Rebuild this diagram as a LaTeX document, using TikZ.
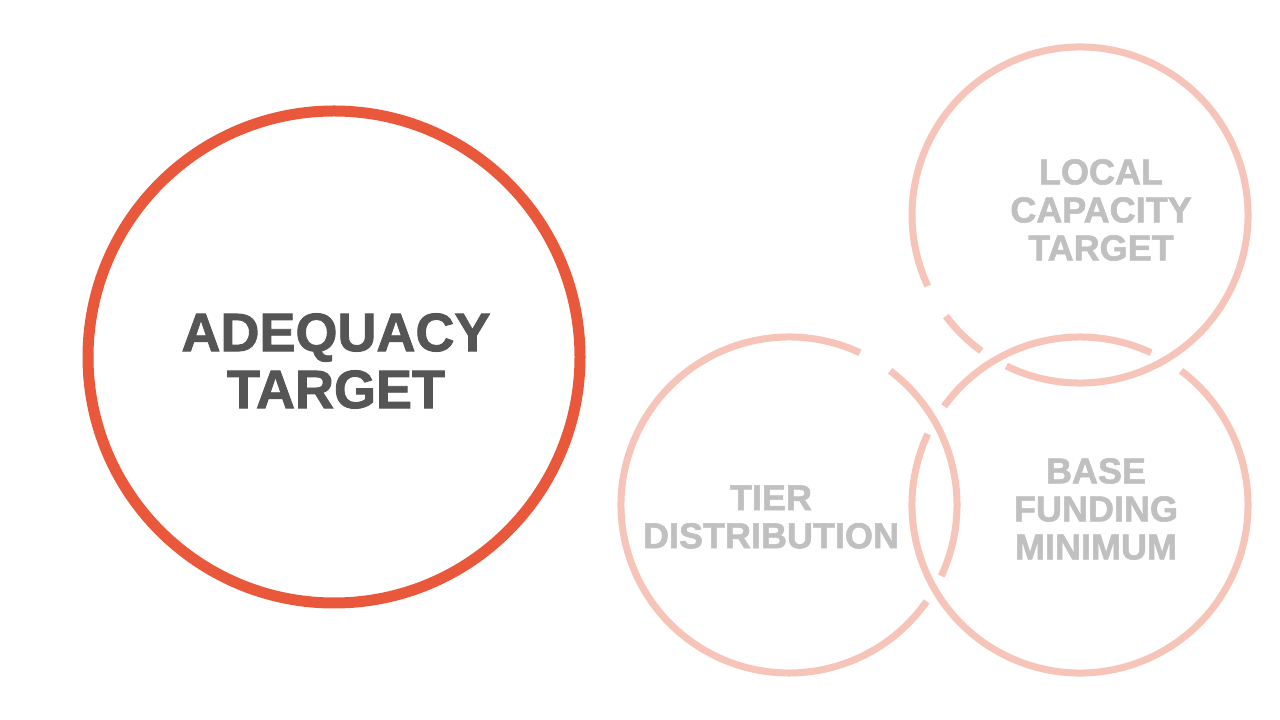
\documentclass[tikz,border=0pt]{standalone}
\usepackage{fontspec}
\setmainfont{Liberation Sans}[BoldFeatures={FakeBold=1.6}]
\usetikzlibrary{positioning}
\definecolor{ringred}{RGB}{233,88,58}
\definecolor{ringpink}{RGB}{246,196,184}
\definecolor{textdark}{RGB}{85,85,85}
\definecolor{textlight}{RGB}{192,192,192}

\begin{document}
\begin{tikzpicture}[x=1pt,y=1pt,semithick]
  \tikzstyle{big}=[circle,draw=ringred,line width=11pt,minimum size=492pt,inner sep=0pt]
  \tikzstyle{bigtext}=[text=textdark,align=center,inner sep=0pt,
                       font=\bfseries\fontsize{54}{57}\selectfont]
  \tikzstyle{ring}=[draw=ringpink,line width=7pt]
  \tikzstyle{small}=[text=textlight,align=center,inner sep=0pt,
                     font=\bfseries\fontsize{36}{38}\selectfont]

  \useasboundingbox (0,0) rectangle (1280,720);
  \fill[white] (0,0) rectangle (1280,720);

  \node[big] (adequacy) at (334,363) {};
  \node[bigtext] (adequacytext) at ([shift={(2,-4)}]adequacy) {ADEQUACY\\TARGET};

  \coordinate (tier) at (789,215);
  \coordinate[right=291pt of tier] (base);
  \coordinate[above=290pt of base] (local);

  % interlocked rings, each with its gaps
  \foreach \c/\a/\b in {local/217/234, local/244/565,
                        base/65/144, base/155/413,
                        tier/65/325, tier/335/413}
    \draw[ring] (\c) ++(\a:168) arc[start angle=\a,end angle=\b,radius=168];

  \node[small] (localtext) at ([shift={(21,5)}]local) {LOCAL\\CAPACITY\\TARGET};
  \node[small] (basetext)  at ([shift={(16,-4)}]base) {BASE\\FUNDING\\MINIMUM};
  \node[small] (tiertext)  at ([shift={(-18,-12)}]tier) {TIER\\DISTRIBUTION};
\end{tikzpicture}
\end{document}
